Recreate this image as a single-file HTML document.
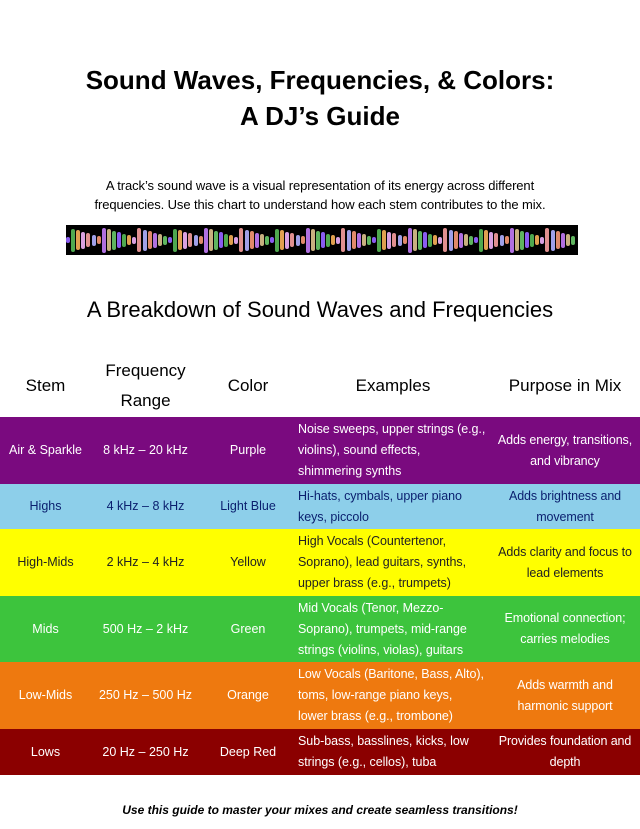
<!DOCTYPE html>
<html><head><meta charset="utf-8"><style>
*{margin:0;padding:0;box-sizing:border-box}
body{width:640px;height:829px;background:#fff;font-family:"Liberation Sans",sans-serif;position:relative;overflow:hidden;color:#000}
.t{position:absolute;left:0;width:640px;text-align:center}
h1{font-size:26px;font-weight:bold;line-height:36px}
.wave{position:absolute;left:66px;top:225px;width:512px;height:30px;background:#000;overflow:hidden}
.wave i{position:absolute;display:block;border-radius:2px}
table{position:absolute;left:0;top:355px;width:640px;border-collapse:collapse;font-size:12.5px;table-layout:fixed}
td,th{padding:0;line-height:21px;text-align:center;overflow:hidden;white-space:nowrap}
th{font-size:17px;font-weight:normal;height:62px;line-height:30px}
td.ex{text-align:left;font-size:12.5px;letter-spacing:-0.05px;padding-left:2px}
td.p{letter-spacing:-0.1px}
</style></head><body>
<div class="t" style="top:62px"><h1>Sound Waves, Frequencies, &amp; Colors:<br>A DJ’s Guide</h1></div>
<div class="t" style="top:176px;font-size:13px;line-height:19px;letter-spacing:-0.1px">A track’s sound wave is a visual representation of its energy across different<br>frequencies. Use this chart to understand how each stem contributes to the mix.</div>
<div class="wave" id="w"></div>
<div class="t" style="top:297px;font-size:22px">A Breakdown of Sound Waves and Frequencies</div>
<table>
<colgroup><col style="width:91px"><col style="width:109px"><col style="width:96px"><col style="width:194px"><col style="width:150px"></colgroup>
<tr><th>Stem</th><th>Frequency<br>Range</th><th>Color</th><th>Examples</th><th>Purpose in Mix</th></tr>
<tr style="background:#7a0a7f;color:#fff;height:67px"><td>Air &amp; Sparkle</td><td>8 kHz – 20 kHz</td><td>Purple</td><td class="ex">Noise sweeps, upper strings (e.g.,<br>violins), sound effects,<br>shimmering synths</td><td class="p">Adds energy, transitions,<br>and vibrancy</td></tr>
<tr style="background:#8dcfea;color:#0a1f6e;height:45px"><td>Highs</td><td>4 kHz – 8 kHz</td><td>Light Blue</td><td class="ex">Hi-hats, cymbals, upper piano<br>keys, piccolo</td><td class="p">Adds brightness and<br>movement</td></tr>
<tr style="background:#ffff00;color:#222;height:67px"><td>High-Mids</td><td>2 kHz – 4 kHz</td><td>Yellow</td><td class="ex">High Vocals (Countertenor,<br>Soprano), lead guitars, synths,<br>upper brass (e.g., trumpets)</td><td class="p">Adds clarity and focus to<br>lead elements</td></tr>
<tr style="background:#3dc43d;color:#fff;height:66px"><td>Mids</td><td>500 Hz – 2 kHz</td><td>Green</td><td class="ex">Mid Vocals (Tenor, Mezzo-<br>Soprano), trumpets, mid-range<br>strings (violins, violas), guitars</td><td class="p">Emotional connection;<br>carries melodies</td></tr>
<tr style="background:#ee790f;color:#fff;height:67px"><td>Low-Mids</td><td>250 Hz – 500 Hz</td><td>Orange</td><td class="ex">Low Vocals (Baritone, Bass, Alto),<br>toms, low-range piano keys,<br>lower brass (e.g., trombone)</td><td class="p">Adds warmth and<br>harmonic support</td></tr>
<tr style="background:#8b0000;color:#fff;height:46px"><td>Lows</td><td>20 Hz – 250 Hz</td><td>Deep Red</td><td class="ex">Sub-bass, basslines, kicks, low<br>strings (e.g., cellos), tuba</td><td class="p">Provides foundation and<br>depth</td></tr>
</table>
<div class="t" style="top:803px;font-size:12px;font-style:italic;font-weight:bold">Use this guide to master your mixes and create seamless transitions!</div>
<script>
var w=document.getElementById('w'),c=['#8a5cf0','#d8a0e0','#e08a6a','#5fb55f','#e0a050','#a0a0e8','#c8b080','#4fa84f','#e09090','#b070e0'];
var s='';for(var i=0;i<100;i++){var h=6+((i*37)%20);var x=i*5.1;s+='<i style="left:'+x+'px;top:'+(15-h/2)+'px;width:4px;height:'+h+'px;background:'+c[(i*7)%10]+'"></i>';}
w.innerHTML=s;
</script>
</body></html>
